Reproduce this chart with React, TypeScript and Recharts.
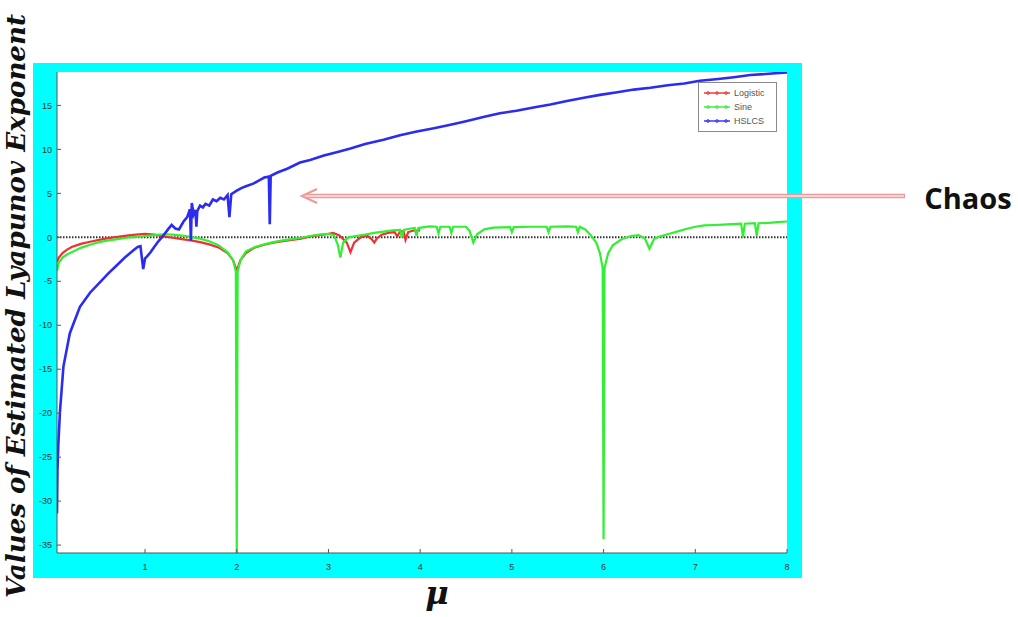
import React from "react";
import { LineChart, Line, XAxis, YAxis, CartesianGrid, ReferenceLine, Legend } from "recharts";

// mu values and estimated Lyapunov exponents
const logisticMu = [0.04, 0.06, 0.1, 0.15, 0.2, 0.3, 0.4, 0.5, 0.6, 0.7, 0.8, 0.9, 1.0, 1.1, 1.2, 1.3, 1.4, 1.5, 1.6, 1.7, 1.8, 1.9, 1.96, 2.0, 2.04, 2.1, 2.2, 2.3, 2.4, 2.5, 2.6, 2.7, 2.8, 2.9, 2.98, 3.05, 3.12, 3.2, 3.24, 3.28, 3.35, 3.42, 3.47, 3.5, 3.53, 3.58, 3.65, 3.72, 3.75, 3.78, 3.82, 3.84, 3.87, 3.92, 4.0];
const logisticLe = [-2.8, -2.3, -1.8, -1.4, -1.1, -0.75, -0.5, -0.3, -0.1, 0.05, 0.2, 0.3, 0.4, 0.3, 0.1, -0.05, -0.2, -0.35, -0.55, -0.8, -1.15, -1.8, -2.6, -3.8, -2.6, -1.8, -1.15, -0.85, -0.6, -0.45, -0.3, -0.15, 0.1, 0.25, 0.35, 0.5, 0.2, -0.6, -1.7, -0.6, 0.0, 0.2, -0.2, -0.6, -0.1, 0.3, 0.5, 0.6, 0.1, 0.65, 0.7, -0.3, 0.6, 0.75, 0.8];

const sineMu = [0.04, 0.06, 0.1, 0.15, 0.2, 0.3, 0.4, 0.5, 0.6, 0.7, 0.8, 0.9, 1.0, 1.1, 1.2, 1.3, 1.4, 1.5, 1.6, 1.7, 1.8, 1.9, 1.96, 1.99, 2.0, 2.01, 2.04, 2.1, 2.2, 2.3, 2.4, 2.5, 2.6, 2.7, 2.8, 2.9, 3.0, 3.06, 3.1, 3.13, 3.16, 3.22, 3.3, 3.4, 3.5, 3.6, 3.7, 3.78, 3.8, 3.82, 3.9, 3.94, 3.96, 3.98, 4.1, 4.18, 4.2, 4.22, 4.32, 4.34, 4.36, 4.5, 4.54, 4.58, 4.62, 4.7, 4.8, 4.98, 5.0, 5.02, 5.2, 5.38, 5.4, 5.42, 5.6, 5.7, 5.72, 5.74, 5.8, 5.86, 5.92, 5.96, 5.99, 6.0, 6.01, 6.05, 6.1, 6.2, 6.3, 6.38, 6.45, 6.5, 6.55, 6.6, 6.7, 6.8, 6.9, 7.0, 7.1, 7.2, 7.3, 7.4, 7.5, 7.52, 7.54, 7.65, 7.67, 7.69, 7.8, 7.9, 8.0];
const sineLe = [-3.8, -2.9, -2.3, -1.95, -1.7, -1.2, -0.85, -0.55, -0.35, -0.2, -0.05, 0.05, 0.15, 0.25, 0.35, 0.3, 0.2, 0.05, -0.15, -0.45, -0.9, -1.7, -2.6, -3.9, -36, -3.9, -2.6, -1.6, -1.1, -0.8, -0.55, -0.35, -0.2, -0.05, 0.15, 0.3, 0.4, 0.25, -0.8, -2.3, -0.6, 0.0, 0.15, 0.3, 0.5, 0.65, 0.8, 0.85, 0.0, 0.85, 1.0, 1.05, 0.15, 1.05, 1.25, 1.2, 0.45, 1.2, 1.2, 0.5, 1.2, 1.2, 0.7, -0.6, 0.35, 0.9, 1.1, 1.15, 0.6, 1.15, 1.2, 1.2, 0.6, 1.2, 1.25, 1.2, 0.6, 1.2, 0.9, 0.25, -0.6, -1.8, -3.5, -34.3, -3.5, -1.8, -0.9, -0.2, 0.15, 0.25, -0.1, -1.3, -0.2, 0.05, 0.35, 0.65, 0.95, 1.2, 1.35, 1.4, 1.45, 1.5, 1.55, 0.0, 1.55, 1.6, 0.15, 1.6, 1.65, 1.72, 1.8];

const hslcsMu = [0.04, 0.045, 0.055, 0.073, 0.11, 0.18, 0.29, 0.4, 0.51, 0.6, 0.69, 0.78, 0.87, 0.92, 0.95, 0.98, 1.0, 1.02, 1.06, 1.1, 1.15, 1.2, 1.25, 1.29, 1.33, 1.37, 1.42, 1.46, 1.49, 1.5, 1.51, 1.53, 1.55, 1.56, 1.57, 1.6, 1.63, 1.66, 1.7, 1.74, 1.78, 1.82, 1.86, 1.9, 1.92, 1.94, 2.0, 2.05, 2.1, 2.18, 2.25, 2.3, 2.35, 2.36, 2.37, 2.45, 2.55, 2.69, 2.8, 2.95, 3.1, 3.24, 3.4, 3.6, 3.78, 3.95, 4.15, 4.33, 4.5, 4.7, 4.87, 5.05, 5.25, 5.42, 5.6, 5.8, 5.96, 6.15, 6.33, 6.51, 6.7, 6.88, 7.05, 7.25, 7.42, 7.6, 7.8, 8.0];
const hslcsLe = [-31.4, -26.5, -23.4, -19.7, -14.7, -10.9, -7.9, -6.3, -5.1, -4.1, -3.2, -2.3, -1.5, -1.1, -1.0, -3.6, -2.4, -2.2, -1.7, -1.1, -0.4, 0.2, 0.9, 1.4, 1.0, 0.9, 1.8, 2.3, 3.2, -0.4, 3.9, 2.6, 3.1, 1.2, 3.0, 3.6, 3.4, 3.8, 3.6, 4.3, 4.1, 4.5, 4.3, 4.8, 2.3, 4.9, 5.3, 5.6, 5.8, 6.1, 6.5, 6.8, 6.9, 1.5, 7.0, 7.4, 7.8, 8.5, 8.8, 9.3, 9.7, 10.1, 10.6, 11.1, 11.6, 12.0, 12.4, 12.8, 13.2, 13.7, 14.1, 14.4, 14.8, 15.1, 15.5, 15.9, 16.2, 16.5, 16.8, 17.0, 17.3, 17.5, 17.8, 18.0, 18.2, 18.45, 18.6, 18.75];

const seriesNames = ["Logistic", "Sine", "HSLCS"];
const xTicks = [1, 2, 3, 4, 5, 6, 7, 8];
const yTicks = [-35, -30, -25, -20, -15, -10, -5, 0, 5, 10, 15];

const toRows = (mu: number[], le: number[]) => mu.map((m, i) => ({ mu: m, le: le[i] }));

const logisticData = toRows(logisticMu, logisticLe);
const sineData = toRows(sineMu, sineLe);
const hslcsData = toRows(hslcsMu, hslcsLe);

const tickFont = { fontSize: 9, fill: "#333", fontFamily: "'Liberation Sans', Arial, sans-serif" };
const axisStroke = "#555";

function LegendBox(props: any) {
  const payload = [...(props.payload || [])].sort(
    (a: any, b: any) => seriesNames.indexOf(a.value) - seriesNames.indexOf(b.value)
  );
  return (
    <div
      style={{
        border: "1px solid #8a8a8a",
        background: "#fff",
        padding: "3px 6px 3px 4px",
        fontFamily: "'Liberation Sans', Arial, sans-serif",
        fontSize: 9,
        color: "#555",
        width: 67,
      }}
    >
      {payload.map((p: any) => (
        <div key={p.value} style={{ display: "flex", alignItems: "center", height: 14 }}>
          <svg width={28} height={8}>
            <line x1={1} y1={4} x2={27} y2={4} stroke={p.color} strokeWidth={1.4} />
            {[5, 14, 23].map((cx) => (
              <circle key={cx} cx={cx} cy={4} r={1.4} fill="none" stroke={p.color} strokeWidth={0.8} />
            ))}
          </svg>
          <span style={{ marginLeft: 3 }}>{p.value}</span>
        </div>
      ))}
    </div>
  );
}

export default function App() {
  return (
    <div style={{ position: "absolute", left: 0, top: 0, width: 1018, height: 617, background: "#fff", overflow: "hidden" }}>
      <div style={{ position: "absolute", left: 33, top: 63, width: 769, height: 515, background: "#00ffff" }}>
        <LineChart width={769} height={515} margin={{ top: 9, right: 15, bottom: 0, left: 0 }}>
          <CartesianGrid fill="#fff" horizontal={false} vertical={false} />
          <XAxis
            dataKey="mu"
            type="number"
            domain={[0.04, 8]}
            ticks={xTicks}
            allowDataOverflow
            height={25}
            tickSize={-4}
            tickMargin={15}
            tick={tickFont}
            stroke={axisStroke}
          />
          <XAxis
            xAxisId="top"
            orientation="top"
            dataKey="mu"
            type="number"
            domain={[0.04, 8]}
            ticks={xTicks}
            allowDataOverflow
            height={0}
            tickSize={-4}
            tickFormatter={() => ""}
            stroke={axisStroke}
          />
          <YAxis
            type="number"
            domain={[-35.9, 18.8]}
            ticks={yTicks}
            allowDataOverflow
            width={24}
            tickSize={-4}
            tickMargin={9}
            tick={tickFont}
            stroke={axisStroke}
          />
          <YAxis
            yAxisId="right"
            orientation="right"
            type="number"
            domain={[-35.9, 18.8]}
            ticks={yTicks}
            allowDataOverflow
            width={0}
            tickSize={-4}
            tickFormatter={() => ""}
            stroke={axisStroke}
          />
          <ReferenceLine y={0} stroke="#333" strokeWidth={2} strokeDasharray="1.5 1.5" />
          <Line data={logisticData} dataKey="le" name="Logistic" type="linear" stroke="#f03030" strokeWidth={2.2} dot={false} isAnimationActive={false} />
          <Line data={sineData} dataKey="le" name="Sine" type="linear" stroke="#33ee33" strokeWidth={2.2} dot={false} isAnimationActive={false} />
          <Line data={hslcsData} dataKey="le" name="HSLCS" type="linear" stroke="#2b2bf2" strokeWidth={2.6} dot={false} isAnimationActive={false} />
          <Legend
            layout="vertical"
            align="center"
            verticalAlign="middle"
            content={<LegendBox />}
            wrapperStyle={{ left: 665, top: 19, width: "auto", height: "auto" }}
          />
        </LineChart>
      </div>
      <svg width={1018} height={617} style={{ position: "absolute", left: 0, top: 0, pointerEvents: "none" }}>
        <text
          transform="translate(25, 306) rotate(-90)"
          textAnchor="middle"
          fontFamily="'DejaVu Serif', serif"
          fontWeight="bold"
          fontStyle="italic"
          fontSize={26}
          textLength={584}
          lengthAdjust="spacingAndGlyphs"
          fill="#111"
        >
          Values of Estimated Lyapunov Exponent
        </text>
        <text x={437} y={604} textAnchor="middle" fontFamily="'DejaVu Serif', serif" fontWeight="bold" fontStyle="italic" fontSize={32} fill="#111">
          μ
        </text>
        <text x={968} y={209} textAnchor="middle" fontFamily="'Open Sans', sans-serif" fontWeight="bold" fontSize={29} fill="#111">
          Chaos
        </text>
        <line x1={306} y1={196} x2={905} y2={196} stroke="#ec9a9a" strokeWidth={4.5} />
        <line x1={306} y1={196} x2={904} y2={196} stroke="#fde6e6" strokeWidth={1.5} />
        <polyline points="317,189 302,196 317,203" fill="none" stroke="#ec9a9a" strokeWidth={2.2} />
      </svg>
    </div>
  );
}
